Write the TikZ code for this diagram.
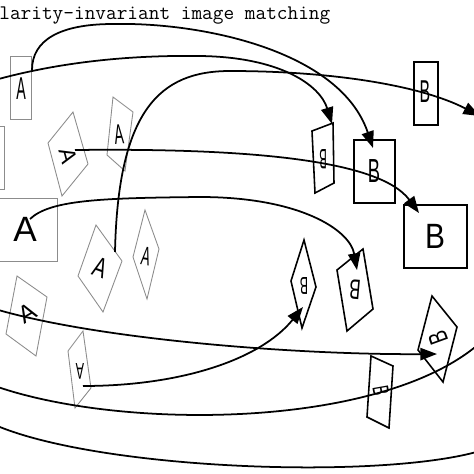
\documentclass[tikz,border=0pt]{standalone}
\usepackage{fontspec}
\setsansfont{Liberation Sans}
\usetikzlibrary{arrows.meta}

\begin{document}
\begin{tikzpicture}
                    [x=0.02cm, y=-0.02cm,
                    ashape/.style={draw=black!45, line width=0.5pt},
                    bshape/.style={draw=black, line width=0.9pt},
                    letter/.style={font=\sffamily\fontsize{#1}{#1}\selectfont,
                        inner sep=0pt},
                    match/.style={line width=1pt,
                        -{Triangle[length=9.5pt,width=7pt]}},
                    trail/.style={line width=1pt}]

                    \clip (0,0) rectangle (474,474);

                    \node[font=\ttfamily\fontsize{11.8}{12}\selectfont, anchor=base west,
                        inner sep=0pt] at (-1,19)
                        (title) {larity-invariant image matching};

                    % A side
                    \draw[ashape] (10,56) rectangle (31,119);
                    \draw[ashape] (-30,126) rectangle (4,189);
                    \draw[ashape] (-10,198) rectangle (57,261);
                    \draw[ashape] (48,143) -- (73,112) -- (88,164) -- (62,196) -- cycle;
                    \draw[ashape] (113,97) -- (133,112) -- (125,171) -- (107,155) -- cycle;
                    \draw[ashape] (96,225) -- (122,261) -- (103,312) -- (78,276) -- cycle;
                    \draw[ashape] (145,210) -- (159,249) -- (147,299) -- (133,257) -- cycle;
                    \draw[ashape] (17,276) -- (47,297) -- (36,356) -- (6,334) -- cycle;
                    \draw[ashape] (83,331) -- (91,388) -- (75,408) -- (68,351) -- cycle;

                    \node[letter=18, xscale=.45] at (21,89)
                        (lA1) {A};
                    \node[letter=20] at (25,229)
                        (lA3) {A};
                    \node[letter=13, rotate=-75] at (68,156)
                        (lA4) {A};
                    \node[letter=16, rotate=5, xscale=.5] at (119,134)
                        (lA5) {A};
                    \node[letter=16, rotate=-20, xscale=.7] at (100,268)
                        (lA6) {A};
                    \node[letter=15, rotate=-10, xscale=.5] at (146,256)
                        (lA7) {A};
                    \node[letter=14, rotate=30] at (27,313)
                        (lA8) {A};
                    \node[letter=13, rotate=180, xscale=.55] at (80,371)
                        (lA9) {A};

                    % B side
                    \draw[bshape] (414,62) rectangle (438,125);
                    \draw[bshape] (312,131) -- (333,123) -- (334,183) -- (315,193) -- cycle;
                    \draw[bshape] (354,140) rectangle (395,203);
                    \draw[bshape, line width=1.2pt] (404,205) rectangle (467,268);
                    \draw[bshape] (304,240) -- (316,287) -- (302,328) -- (291,281) -- cycle;
                    \draw[bshape] (337,270) -- (363,249) -- (373,309) -- (347,331) -- cycle;
                    \draw[bshape] (432,296) -- (457,327) -- (443,382) -- (418,350) -- cycle;
                    \draw[bshape] (371,356) -- (393,366) -- (389,428) -- (367,417) -- cycle;

                    \node[letter=18, xscale=.5] at (425,92)
                        (lB1) {B};
                    \node[letter=16, rotate=180, xscale=.4] at (323,159)
                        (lB2) {B};
                    \node[letter=19, xscale=.55] at (374,171)
                        (lB3) {B};
                    \node[letter=20, xscale=.85] at (435,236)
                        (lB4) {B};
                    \node[letter=14, rotate=180, xscale=.5] at (304,286)
                        (lB5) {B};
                    \node[letter=16, rotate=175, xscale=.6] at (355,290)
                        (lB6) {B};
                    \node[letter=15, rotate=110, xscale=.7] at (438,338)
                        (lB7) {B};
                    \node[letter=13, rotate=-80, xscale=.6] at (381,391)
                        (lB8) {B};

                    % ends of the matches
                    \coordinate (sA1) at (32,70);
                    \coordinate (sL1) at (-5,80);
                    \coordinate (sA4) at (75,150);
                    \coordinate (sA3) at (30,219);
                    \coordinate (sA6) at (115,252);
                    \coordinate (sL2) at (-5,309);
                    \coordinate (sA9) at (83,386);
                    \coordinate (sL3) at (-5,386);
                    \coordinate (sL4) at (-5,425);
                    \coordinate (tB3) at (373,148);
                    \coordinate (tB2) at (332,124);
                    \coordinate (tB4) at (419,213);
                    \coordinate (tB6) at (357,270);
                    \coordinate (tB7) at (437,354);
                    \coordinate (tB5) at (303,307);
                    \coordinate (tR1) at (480,116);
                    \coordinate (tR2) at (480,343);
                    \coordinate (tR3) at (480,451);

                    \draw[match] (sA1) .. controls (32,40) and (60,24) .. (113,24)
                        .. controls (200,22) and (340,50) .. (tB3);
                    \draw[match] (sL1) .. controls (60,62) and (130,55) .. (200,56)
                        .. controls (280,57) and (320,85) .. (tB2);
                    \draw[match] (sA6) .. controls (118,110) and (160,71) .. (230,71)
                        .. controls (330,71) and (420,85) .. (tR1);
                    \draw[match] (sA4) .. controls (250,148) and (380,160) .. (tB4);
                    \draw[match] (sA3) .. controls (50,200) and (100,198) .. (200,197)
                        .. controls (300,197) and (350,230) .. (tB6);
                    \draw[match] (sL2) .. controls (100,340) and (300,355) .. (tB7);
                    \draw[match] (sA9) .. controls (180,386) and (260,360) .. (tB5);
                    \draw[trail] (sL3) .. controls (120,430) and (380,430) .. (tR2);
                    \draw[trail] (sL4) .. controls (100,470) and (380,480) .. (tR3);
                \end{tikzpicture}
\end{document}
